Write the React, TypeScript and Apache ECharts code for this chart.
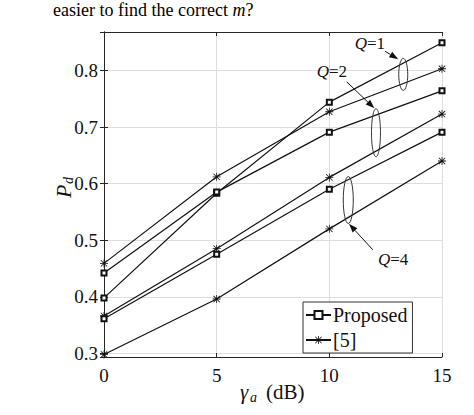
import React, { useEffect, useRef } from 'react';
import * as echarts from 'echarts';

// gamma_a (dB) on the x axis
const gammaDb = [0, 5, 10, 15];

// detection probability P_d
const q1Proposed = [0.398, 0.583, 0.744, 0.849];
const q1Ref5 = [0.459, 0.612, 0.727, 0.803];
const q2Proposed = [0.442, 0.585, 0.691, 0.764];
const q2Ref5 = [0.366, 0.485, 0.611, 0.723];
const q4Proposed = [0.361, 0.475, 0.59, 0.691];
const q4Ref5 = [0.298, 0.396, 0.52, 0.64];

const yTicks = [0.3, 0.4, 0.5, 0.6, 0.7, 0.8];
const xTicks = [0, 5, 10, 15];

const SERIF = "'Liberation Serif', serif";
const INK = '#111';

// MATLAB style '*' marker
const STAR =
  'path://M9 0H11V20H9Z M0 9H20V11H0Z M1.4 2.8L2.8 1.4L18.6 17.2L17.2 18.6Z M17.2 1.4L18.6 2.8L2.8 18.6L1.4 17.2Z';

const pairs = (ys: number[]) => gammaDb.map((x, i) => [x, ys[i]]);

const App: React.FC = () => {
  const chartRef = useRef<HTMLDivElement>(null);

  useEffect(() => {
    document.body.style.margin = '0';
    if (!chartRef.current) return;
    const chart = echarts.init(chartRef.current, null, { renderer: 'svg' });

    const proposed = (ys: number[]) => ({
      name: 'Proposed',
      type: 'line',
      data: pairs(ys),
      symbol: 'emptyRect',
      symbolSize: 5,
      lineStyle: { color: INK, width: 1.2 },
      itemStyle: { color: INK, borderWidth: 0.9 },
      z: 3
    });
    const ref5 = (ys: number[]) => ({
      name: '[5]',
      type: 'line',
      data: pairs(ys),
      symbol: STAR,
      symbolSize: 8,
      lineStyle: { color: INK, width: 1.2 },
      itemStyle: { color: INK },
      z: 3
    });

    const xBase = { type: 'value', min: 0, max: 15, interval: 5 };
    const yBase = { type: 'value', min: 0.2935, max: 0.868 };
    const axisLine = { show: true, lineStyle: { color: '#262626', width: 1 } };
    const tickIn = { show: true, inside: true, length: 4, lineStyle: { color: '#262626' } };

    chart.setOption({
      animation: false,
      backgroundColor: '#fff',
      grid: { left: 104, right: 32, top: 32, bottom: 58 },
      xAxis: [
        {
          ...xBase,
          position: 'bottom',
          axisLine,
          axisTick: tickIn,
          axisLabel: {
            customValues: xTicks,
            color: INK,
            fontFamily: SERIF,
            fontSize: 19,
            margin: 9
          },
          splitLine: { show: true, lineStyle: { color: '#dedede', width: 1 } }
        },
        {
          ...xBase,
          position: 'top',
          axisLine,
          axisTick: tickIn,
          axisLabel: { show: false },
          splitLine: { show: false }
        }
      ],
      yAxis: [
        {
          ...yBase,
          position: 'left',
          axisLine,
          axisTick: tickIn,
          axisLabel: {
            customValues: yTicks,
            formatter: (v: number) => v.toFixed(1),
            color: INK,
            fontFamily: SERIF,
            fontSize: 19,
            margin: 6
          },
          splitLine: { show: true, lineStyle: { color: '#dedede', width: 1 } }
        },
        {
          ...yBase,
          position: 'right',
          axisLine,
          axisTick: tickIn,
          axisLabel: { show: false },
          splitLine: { show: false }
        }
      ],
      legend: {
        data: ['Proposed', '[5]'],
        orient: 'vertical',
        left: 303,
        top: 302,
        padding: [3, 5, 3, 2],
        itemGap: 5,
        itemWidth: 25,
        itemHeight: 10,
        backgroundColor: '#fff',
        borderColor: '#333',
        borderWidth: 1,
        borderRadius: 0,
        textStyle: { color: INK, fontFamily: SERIF, fontSize: 20, padding: [0, 0, 0, -3] }
      },
      series: [
        proposed(q1Proposed),
        ref5(q1Ref5),
        proposed(q2Proposed),
        ref5(q2Ref5),
        proposed(q4Proposed),
        ref5(q4Ref5)
      ]
    });

    // annotations, anchored in data coordinates
    const toPx = (p: number[]) => chart.convertToPixel({ seriesIndex: 0 }, p) as number[];

    const ellipse = (c: number[], rx: number, ry: number) => {
      const [cx, cy] = toPx(c);
      return {
        type: 'ellipse',
        shape: { cx, cy, rx, ry },
        style: { fill: 'none', stroke: '#333', lineWidth: 1 },
        z: 10
      };
    };

    const arrow = (from: number[], to: number[]) => {
      const [x1, y1] = toPx(from);
      const [x2, y2] = toPx(to);
      const ang = Math.atan2(y2 - y1, x2 - x1);
      const len = 9;
      const hw = 3.2;
      const bx = x2 - len * Math.cos(ang);
      const by = y2 - len * Math.sin(ang);
      const nx = -Math.sin(ang) * hw;
      const ny = Math.cos(ang) * hw;
      return [
        {
          type: 'line',
          shape: { x1, y1, x2: bx, y2: by },
          style: { stroke: INK, lineWidth: 1 },
          z: 10
        },
        {
          type: 'polygon',
          shape: { points: [[x2, y2], [bx + nx, by + ny], [bx - nx, by - ny]] },
          style: { fill: INK },
          z: 10
        }
      ];
    };

    const qLabel = (p: number[], n: string) => {
      const [x, y] = toPx(p);
      return {
        type: 'text',
        x,
        y,
        style: {
          text: `{q|Q}=${n}`,
          fill: INK,
          fontFamily: SERIF,
          fontSize: 17,
          align: 'center',
          verticalAlign: 'middle',
          rich: { q: { fontStyle: 'italic', fontFamily: SERIF, fontSize: 17 } }
        },
        z: 10
      };
    };

    chart.setOption({
      graphic: [
        ellipse([13.28, 0.793], 4.5, 16),
        ellipse([12.07, 0.69], 4.5, 24),
        ellipse([10.84, 0.571], 5, 23.5),
        ...arrow([12.47, 0.834], [13.06, 0.82]),
        ...arrow([10.77, 0.78], [12.0, 0.733]),
        ...arrow([11.93, 0.483], [10.87, 0.529]),
        qLabel([11.8, 0.848], '1'),
        qLabel([10.11, 0.798], '2'),
        qLabel([12.83, 0.466], '4'),
        {
          type: 'group',
          x: 240,
          y: 392,
          children: [
            {
              type: 'text',
              x: 0,
              y: 0,
              style: { text: 'γ', fill: INK, fontFamily: SERIF, fontStyle: 'italic', fontSize: 21, verticalAlign: 'middle' }
            },
            {
              type: 'text',
              x: 10,
              y: 5,
              style: { text: 'a', fill: INK, fontFamily: SERIF, fontStyle: 'italic', fontSize: 14, verticalAlign: 'middle' }
            },
            {
              type: 'text',
              x: 26,
              y: 0,
              style: { text: '(dB)', fill: INK, fontFamily: SERIF, fontSize: 21, verticalAlign: 'middle' }
            }
          ]
        },
        {
          type: 'group',
          x: 63,
          y: 187,
          rotation: Math.PI / 2,
          children: [
            {
              type: 'text',
              x: -11,
              y: 0,
              style: { text: 'P', fill: INK, fontFamily: SERIF, fontStyle: 'italic', fontSize: 22, verticalAlign: 'middle' }
            },
            {
              type: 'text',
              x: 3,
              y: 5,
              style: { text: 'd', fill: INK, fontFamily: SERIF, fontStyle: 'italic', fontSize: 14, verticalAlign: 'middle' }
            }
          ]
        },
        {
          type: 'text',
          x: 53,
          y: 1,
          style: {
            text: 'easier to find the correct {m|m}?',
            fill: '#000',
            fontFamily: SERIF,
            fontSize: 18,
            verticalAlign: 'top',
            rich: { m: { fontStyle: 'italic', fontFamily: SERIF, fontSize: 18 } }
          }
        }
      ]
    });

    return () => {
      chart.dispose();
    };
  }, []);

  return <div ref={chartRef} style={{ width: 474, height: 415 }} />;
};

export default App;
